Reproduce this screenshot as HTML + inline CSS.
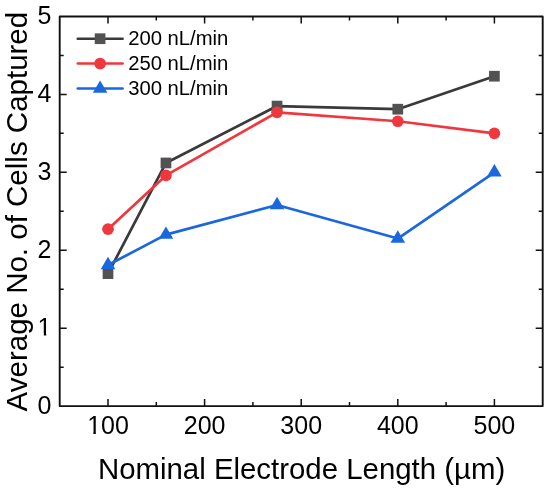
<!DOCTYPE html>
<html><head><meta charset="utf-8"><style>
html,body{margin:0;padding:0;background:#fff;}
body{width:550px;height:494px;overflow:hidden;}
svg{display:block;font-family:"Liberation Sans",Arial,sans-serif;fill:#000;}
</style></head><body>
<svg width="550" height="494" viewBox="0 0 550 494">
<rect width="550" height="494" fill="#fff"/>
<rect x="59.70" y="16.45" width="483.00" height="389.65" fill="none" stroke="#111" stroke-width="1.9" stroke-linejoin="round"/>
<path d="M108.00 406.10v-7M108.00 16.45v7M156.30 406.10v-4M156.30 16.45v4M204.60 406.10v-7M204.60 16.45v7M252.90 406.10v-4M252.90 16.45v4M301.20 406.10v-7M301.20 16.45v7M349.50 406.10v-4M349.50 16.45v4M397.80 406.10v-7M397.80 16.45v7M446.10 406.10v-4M446.10 16.45v4M494.40 406.10v-7M494.40 16.45v7M59.70 367.13h4M542.70 367.13h-4M59.70 328.17h7M542.70 328.17h-7M59.70 289.21h4M542.70 289.21h-4M59.70 250.24h7M542.70 250.24h-7M59.70 211.28h4M542.70 211.28h-4M59.70 172.31h7M542.70 172.31h-7M59.70 133.35h4M542.70 133.35h-4M59.70 94.38h7M542.70 94.38h-7M59.70 55.41h4M542.70 55.41h-4" stroke="#111" stroke-width="1.5" fill="none"/>
<defs><clipPath id="c1a" clipPathUnits="userSpaceOnUse"><rect x="67.15" y="392.00" width="57.50" height="40"/><rect x="93.40" y="431.00" width="2.38" height="3.00"/><rect x="101.05" y="392.00" width="75.00" height="60"/></clipPath><clipPath id="c1b" clipPathUnits="userSpaceOnUse"><rect x="17.60" y="293.57" width="57.50" height="40"/><rect x="43.85" y="332.57" width="2.38" height="3.00"/><rect x="51.50" y="293.57" width="75.00" height="60"/></clipPath></defs>
<g font-size="25"><text x="108.00" y="434" text-anchor="middle" clip-path="url(#c1a)">100</text><text x="204.60" y="434" text-anchor="middle">200</text><text x="301.20" y="434" text-anchor="middle">300</text><text x="397.80" y="434" text-anchor="middle">400</text><text x="494.40" y="434" text-anchor="middle">500</text><text x="51.5" y="413.50" text-anchor="end">0</text><text x="51.5" y="335.57" text-anchor="end" clip-path="url(#c1b)">1</text><text x="51.5" y="257.64" text-anchor="end">2</text><text x="51.5" y="179.71" text-anchor="end">3</text><text x="51.5" y="101.78" text-anchor="end">4</text><text x="51.5" y="23.85" text-anchor="end">5</text></g>
<text x="301.6" y="479.2" font-size="29.4" text-anchor="middle">Nominal Electrode Length (µm)</text>
<text transform="translate(27.0 211.6) rotate(-90)" font-size="29.5" text-anchor="middle">Average No. of Cells Captured</text>
<polyline points="108.00,273.62 165.96,162.96 277.05,106.07 397.80,109.19 494.40,76.22" fill="none" stroke="#3a3a3a" stroke-width="2.7" stroke-linejoin="round"/>
<rect x="102.65" y="268.27" width="10.7" height="10.7" fill="#525252"/>
<rect x="160.61" y="157.61" width="10.7" height="10.7" fill="#525252"/>
<rect x="271.70" y="100.72" width="10.7" height="10.7" fill="#525252"/>
<rect x="392.45" y="103.84" width="10.7" height="10.7" fill="#525252"/>
<rect x="489.05" y="70.87" width="10.7" height="10.7" fill="#525252"/>
<polyline points="108.00,229.20 165.96,175.43 277.05,112.30 397.80,121.27 494.40,133.35" fill="none" stroke="#f1373e" stroke-width="2.7" stroke-linejoin="round"/>
<circle cx="108.00" cy="229.20" r="5.85" fill="#f1373e"/>
<circle cx="165.96" cy="175.43" r="5.85" fill="#f1373e"/>
<circle cx="277.05" cy="112.30" r="5.85" fill="#f1373e"/>
<circle cx="397.80" cy="121.27" r="5.85" fill="#f1373e"/>
<circle cx="494.40" cy="133.35" r="5.85" fill="#f1373e"/>
<polyline points="108.00,265.05 165.96,234.65 277.05,205.04 397.80,238.55 494.40,172.31" fill="none" stroke="#1b67e0" stroke-width="2.7" stroke-linejoin="round"/>
<polygon points="108.00,256.78 100.70,269.18 115.30,269.18" fill="#1b67e0"/>
<polygon points="165.96,226.39 158.66,238.79 173.26,238.79" fill="#1b67e0"/>
<polygon points="277.05,196.77 269.75,209.17 284.35,209.17" fill="#1b67e0"/>
<polygon points="397.80,230.28 390.50,242.68 405.10,242.68" fill="#1b67e0"/>
<polygon points="494.40,164.04 487.10,176.44 501.70,176.44" fill="#1b67e0"/>
<line x1="77.7" y1="38.7" x2="122.6" y2="38.7" stroke="#3a3a3a" stroke-width="2.5" stroke-linecap="round"/>
<rect x="94.75" y="33.35" width="10.7" height="10.7" fill="#525252"/>
<line x1="77.7" y1="63.5" x2="122.6" y2="63.5" stroke="#f1373e" stroke-width="2.5" stroke-linecap="round"/>
<circle cx="100.10" cy="63.50" r="5.85" fill="#f1373e"/>
<line x1="77.7" y1="88.4" x2="122.6" y2="88.4" stroke="#1b67e0" stroke-width="2.5" stroke-linecap="round"/>
<polygon points="100.10,80.43 92.80,92.83 107.40,92.83" fill="#1b67e0"/>
<text x="128.2" y="45.30" font-size="20.25">200 nL/min</text>
<text x="128.2" y="70.10" font-size="20.25">250 nL/min</text>
<text x="128.2" y="95.00" font-size="20.25">300 nL/min</text>
</svg>
</body></html>
